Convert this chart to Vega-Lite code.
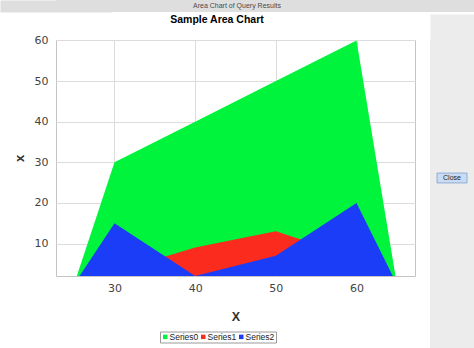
{
  "$schema": "https://vega.github.io/schema/vega-lite/v6.json",
  "padding": 0,
  "background": "#ffffff",
  "spacing": 2,
  "config": {"view": {"stroke": null}, "font": "Liberation Sans"},
  "vconcat": [
    {
      "width": 418,
      "height": 12,
      "view": {"fill": "#dedede", "stroke": null},
      "data": {"values": [{"label": "Area Chart of Query Results"}]},
      "mark": {"type": "text", "font": "Liberation Sans", "fontSize": 7, "color": "#4a4a4a", "baseline": "middle", "align": "center", "dx": -28},
      "encoding": {
        "text": {"field": "label"},
        "y": {"field": "label", "type": "nominal", "axis": {"orient": "left", "title": null, "labels": false, "ticks": false, "grid": false, "domain": true, "domainWidth": 112, "domainColor": "#dedede"}}
      }
    },
    {
      "spacing": 14,
      "resolve": {"scale": {"color": "independent"}},
      "hconcat": [
        {
          "width": 359,
          "height": 236,
          "view": {"stroke": "#c4c4c4", "fill": "#ffffff"},
          "title": {"text": "Sample Area Chart", "frame": "bounds", "anchor": "middle", "font": "Liberation Sans", "fontSize": 10.5, "fontWeight": "bold", "color": "#000000", "offset": 8.5, "dx": 9},
          "data": {"values": [
            {"series": "Series0", "xv": 25, "yv": 0},
            {"series": "Series0", "xv": 30, "yv": 30},
            {"series": "Series0", "xv": 40, "yv": 40},
            {"series": "Series0", "xv": 50, "yv": 50},
            {"series": "Series0", "xv": 60, "yv": 60},
            {"series": "Series0", "xv": 65, "yv": 0},
            {"series": "Series1", "xv": 25, "yv": 0},
            {"series": "Series1", "xv": 30, "yv": 3},
            {"series": "Series1", "xv": 40, "yv": 9},
            {"series": "Series1", "xv": 50, "yv": 13},
            {"series": "Series1", "xv": 60, "yv": 6.5},
            {"series": "Series1", "xv": 65, "yv": 0},
            {"series": "Series2", "xv": 25, "yv": 0},
            {"series": "Series2", "xv": 30, "yv": 15},
            {"series": "Series2", "xv": 40, "yv": 2},
            {"series": "Series2", "xv": 50, "yv": 7},
            {"series": "Series2", "xv": 60, "yv": 20},
            {"series": "Series2", "xv": 65, "yv": 0}
          ]},
          "mark": {"type": "area", "clip": true, "opacity": 1},
          "encoding": {
            "x": {
              "field": "xv", "type": "quantitative",
              "scale": {"domain": [22.75, 67.25], "nice": false, "zero": false},
              "axis": {"title": "X", "values": [30, 40, 50, 60], "grid": true, "gridColor": "#dcdcdc", "domain": false, "ticks": false, "tickSize": 0, "labelPadding": 6.5, "labelFont": "DejaVu Sans", "labelFontSize": 11, "labelColor": "#444444", "titleFont": "Liberation Sans", "titleFontSize": 12.5, "titleFontWeight": "bold", "titleColor": "#333333", "titlePadding": 17}
            },
            "y": {
              "field": "yv", "type": "quantitative", "stack": null,
              "scale": {"domain": [2, 60.1], "nice": false, "zero": false},
              "axis": {"title": "x", "values": [10, 20, 30, 40, 50, 60], "grid": true, "gridColor": "#dcdcdc", "domain": false, "ticks": false, "tickSize": 0, "labelPadding": 8, "labelFont": "DejaVu Sans", "labelFontSize": 11, "labelColor": "#444444", "minExtent": 55, "titleX": -37, "titleBaseline": "middle", "titleAlign": "center", "titleFont": "Liberation Sans", "titleFontSize": 13, "titleFontWeight": "bold", "titleColor": "#333333"}
            },
            "color": {
              "field": "series", "type": "nominal",
              "scale": {"domain": ["Series0", "Series1", "Series2"], "range": ["#00f43c", "#fb2b1d", "#1b3df7"]},
              "legend": {"orient": "none", "legendX": 104, "legendY": 291.5, "direction": "horizontal", "title": null, "symbolType": "square", "symbolSize": 20, "symbolStrokeWidth": 0, "labelFont": "Liberation Sans", "labelFontSize": 8.5, "labelColor": "#222222", "labelOffset": 0, "columnPadding": 0, "padding": 1, "strokeColor": "#9a9a9a", "fillColor": "#ffffff"}
            }
          }
        },
        {
          "width": 44,
          "height": 308,
          "view": {"fill": "#ececec", "stroke": null},
          "data": {"values": [{"label": "Close"}]},
          "encoding": {
            "x": {"field": "label", "type": "nominal", "axis": {"orient": "top", "title": null, "labels": false, "ticks": false, "grid": false, "domain": true, "domainWidth": 52, "domainColor": "#ececec"}}
          },
          "layer": [
            {"mark": {"type": "point", "shape": "M-1,-0.33H1V0.33H-1Z", "size": 900, "filled": true, "fill": "#c9dcf3", "stroke": "#7f9fcf", "strokeWidth": 0.8, "opacity": 1, "yOffset": -16}},
            {"mark": {"type": "text", "font": "Liberation Sans", "fontSize": 7, "color": "#1a1a1a", "yOffset": -16}, "encoding": {"text": {"field": "label"}}}
          ]
        }
      ]
    }
  ]
}
